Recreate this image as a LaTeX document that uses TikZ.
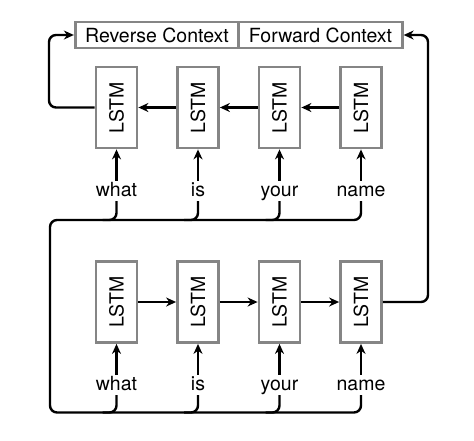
\documentclass[tikz,border=0pt]{standalone}
\usepackage{fontspec}
\setmainfont{TeX Gyre Heros}
\usetikzlibrary{positioning,arrows.meta,calc}
\definecolor{boxgray}{HTML}{858585}
\tikzset{
  lstm/.style={draw=boxgray,line width=2.8pt,fill=white,minimum width=41pt,minimum height=81pt,inner sep=0pt},
  ctx/.style={draw=boxgray,line width=2.8pt,minimum width=163.5pt,minimum height=26pt,inner sep=0pt},
  word/.style={text height=14pt,text depth=4pt,inner sep=0pt},
  bus/.style={line width=2.4pt,rounded corners=7pt},
}

\begin{document}
\begin{tikzpicture}[x=1pt,y=-1pt,>={Stealth[length=10pt,width=9pt]},line width=2.4pt,node distance=81.5pt,font=\fontsize{19.5}{22}\selectfont]
    \useasboundingbox (0,0) rectangle (474,440);

    \node[ctx] (rc) at (157,35) {Reverse Context};
    \node[ctx] (fc) at (320.5,35) {Forward Context};

    % reverse pass (top) and forward pass (bottom)
    \node[lstm] (t1) at (116.5,107.5) {\rotatebox{90}{LSTM}};
    \node[lstm] (t2) [right of=t1] {\rotatebox{90}{LSTM}};
    \node[lstm] (t3) [right of=t2] {\rotatebox{90}{LSTM}};
    \node[lstm] (t4) [right of=t3] {\rotatebox{90}{LSTM}};
    \node[lstm] (b1) at (116.5,302) {\rotatebox{90}{LSTM}};
    \node[lstm] (b2) [right of=b1] {\rotatebox{90}{LSTM}};
    \node[lstm] (b3) [right of=b2] {\rotatebox{90}{LSTM}};
    \node[lstm] (b4) [right of=b3] {\rotatebox{90}{LSTM}};

    \foreach \w [count=\i] in {what,is,your,name} {
        \node[word] (tw\i) at ($(t\i)+(0,83.5)$) {\w};
        \node[word] (bw\i) at ($(b\i)+(0,83)$) {\w};
        \draw[->] (tw\i) -- (t\i);
        \draw[->] (bw\i) -- (b\i);
    }

    \path[->] (t4) edge (t3) (t3) edge (t2) (t2) edge (t1)
              (b1) edge (b2) (b2) edge (b3) (b3) edge (b4);

    \coordinate (cornL) at (49,35);
    \coordinate (cornR) at (428,35);
    \coordinate (busT) at (50,220);
    \coordinate (busB) at (50,412.5);

    \draw[->,rounded corners=7pt] (t1.west) -| (cornL) -- (rc.west);
    \draw[->,rounded corners=7pt] (b4.east) -| (cornR) -- (fc.east);

    % words feed the next pass
    \draw[bus] (tw4.south) |- (busT) -- (busB) -| (bw4.south);
    \foreach \i in {1,2,3} {
        \draw[bus] (tw\i.south) |- ($(tw\i.south|-busT)+(-14,0)$);
        \draw[bus] (bw\i.south) |- ($(bw\i.south|-busB)+(-14,0)$);
    }
\end{tikzpicture}
\end{document}
